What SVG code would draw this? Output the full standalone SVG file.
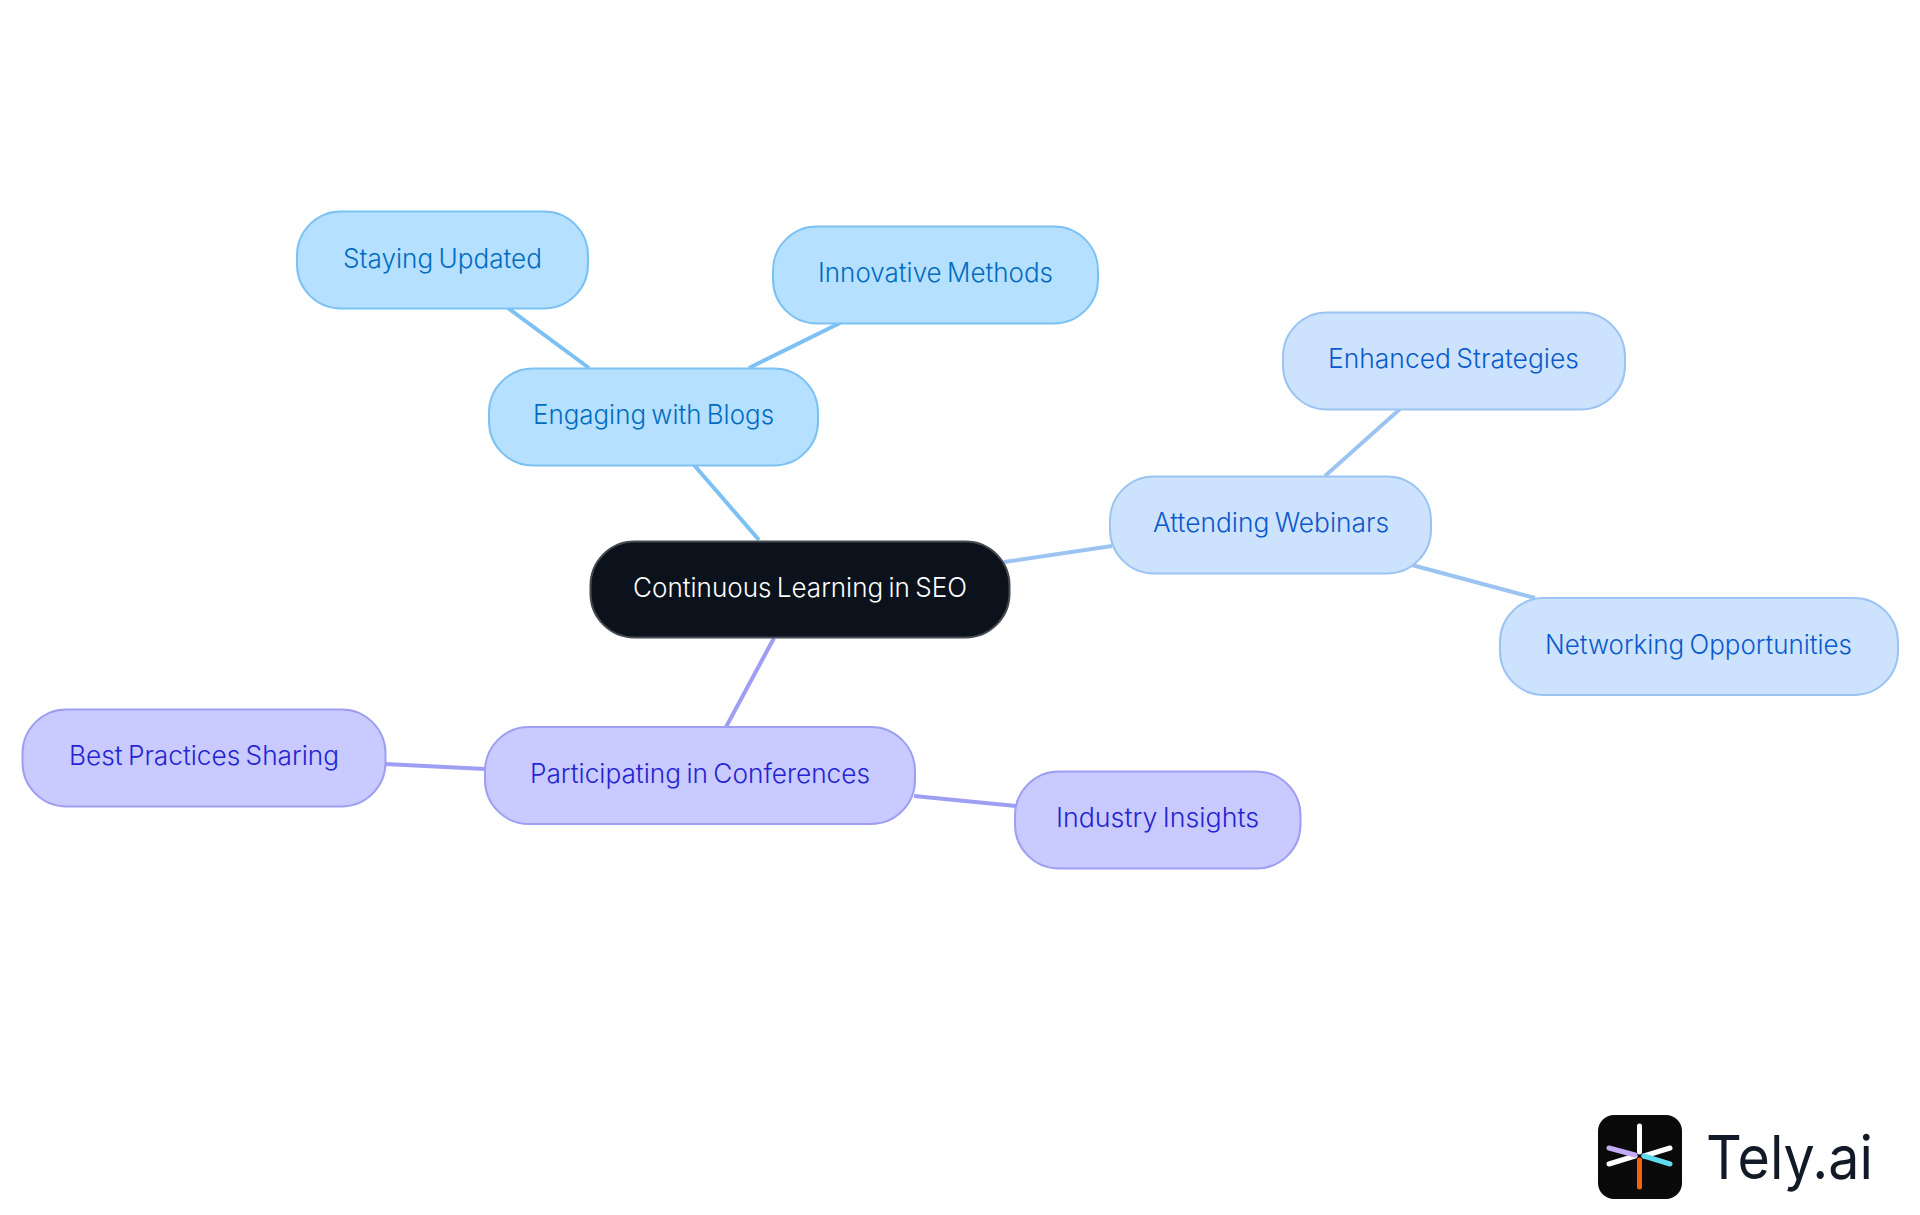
<svg xmlns="http://www.w3.org/2000/svg" width="1920" height="1215" viewBox="0 0 1920 1215">
<style>
text{font-family:Inter,"Noto Sans",sans-serif;font-size:26.500px;font-weight:300;word-spacing:-2px}
.n{stroke-width:2}
.a{fill:#b6e0ff;stroke:#7cc1f3}.at{fill:#006cbf}
.b{fill:#cde3fd;stroke:#9cc4f2}.bt{fill:#0a5acb}
.c{fill:#c9caff;stroke:#9e9ff2}.ct{fill:#2424d0}
.l{fill:none;stroke-width:4}
</style>
<rect width="1920" height="1215" fill="#fff"/>
<g id="connectors">
<path class="l" stroke="#7cc1f3" d="M759 540L694 465M589 368L508 308M749 368L840 323"/>
<path class="l" stroke="#9cc4f2" d="M1004 562L1112 546M1325 476L1400 409M1412 565L1535 598"/>
<path class="l" stroke="#9e9ff2" d="M774 638L726 727M485 769L385 764M914 796L1016 806"/>
</g>
<g id="root"><rect x="590.500" y="541.500" width="419" height="96" rx="44" fill="#0b121b" stroke="#444a50" stroke-width="2"/><text x="633" y="597" textLength="334" lengthAdjust="spacingAndGlyphs" fill="#fff" style="font-weight:350">Continuous Learning in SEO</text></g>
<g id="blogs"><rect class="n a" x="489" y="368.500" width="329" height="97" rx="44"/><text class="at" x="533" y="424" textLength="241" lengthAdjust="spacingAndGlyphs">Engaging with Blogs</text></g>
<g id="staying"><rect class="n a" x="297" y="211.500" width="291" height="97" rx="44"/><text class="at" x="343" y="268" textLength="199" lengthAdjust="spacingAndGlyphs">Staying Updated</text></g>
<g id="innovative"><rect class="n a" x="773" y="226.500" width="325" height="97" rx="44"/><text class="at" x="818" y="282" textLength="235" lengthAdjust="spacingAndGlyphs">Innovative Methods</text></g>
<g id="webinars"><rect class="n b" x="1110" y="476.500" width="321" height="97" rx="44"/><text class="bt" x="1153" y="532" textLength="236" lengthAdjust="spacingAndGlyphs">Attending Webinars</text></g>
<g id="enhanced"><rect class="n b" x="1283" y="312.500" width="342" height="97" rx="44"/><text class="bt" x="1328" y="368" textLength="251" lengthAdjust="spacingAndGlyphs">Enhanced Strategies</text></g>
<g id="networking"><rect class="n b" x="1500" y="598" width="398" height="97" rx="44"/><text class="bt" x="1545" y="654" textLength="307" lengthAdjust="spacingAndGlyphs">Networking Opportunities</text></g>
<g id="conferences"><rect class="n c" x="485" y="727" width="430" height="97" rx="44"/><text class="ct" x="530" y="783" textLength="340" lengthAdjust="spacingAndGlyphs">Participating in Conferences</text></g>
<g id="practices"><rect class="n c" x="22.500" y="709.500" width="363" height="97" rx="44"/><text class="ct" x="69" y="765" textLength="270" lengthAdjust="spacingAndGlyphs">Best Practices Sharing</text></g>
<g id="industry"><rect class="n c" x="1015" y="771.500" width="285.500" height="97" rx="44"/><text class="ct" x="1056" y="827" textLength="203" lengthAdjust="spacingAndGlyphs">Industry Insights</text></g>
<g id="logo">
<rect x="1598" y="1115" width="84" height="84" rx="16" fill="#0a0a0a"/>
<g fill="none" stroke-width="5" stroke-linecap="round">
<path stroke="#fff" d="M1639.500 1126V1152M1609 1164L1635 1156M1670 1148L1644 1156"/>
<path stroke="#c5abf5" d="M1609 1148L1635 1155"/>
<path stroke="#5fdcec" d="M1644 1156L1670 1164"/>
<path stroke="#f2620f" d="M1639.500 1160V1187"/>
</g>
<text x="1706" y="1179" textLength="167" lengthAdjust="spacingAndGlyphs" style="font-size:60px;font-weight:400;word-spacing:0" fill="#111a26">Tely.ai</text>
</g>
</svg>
